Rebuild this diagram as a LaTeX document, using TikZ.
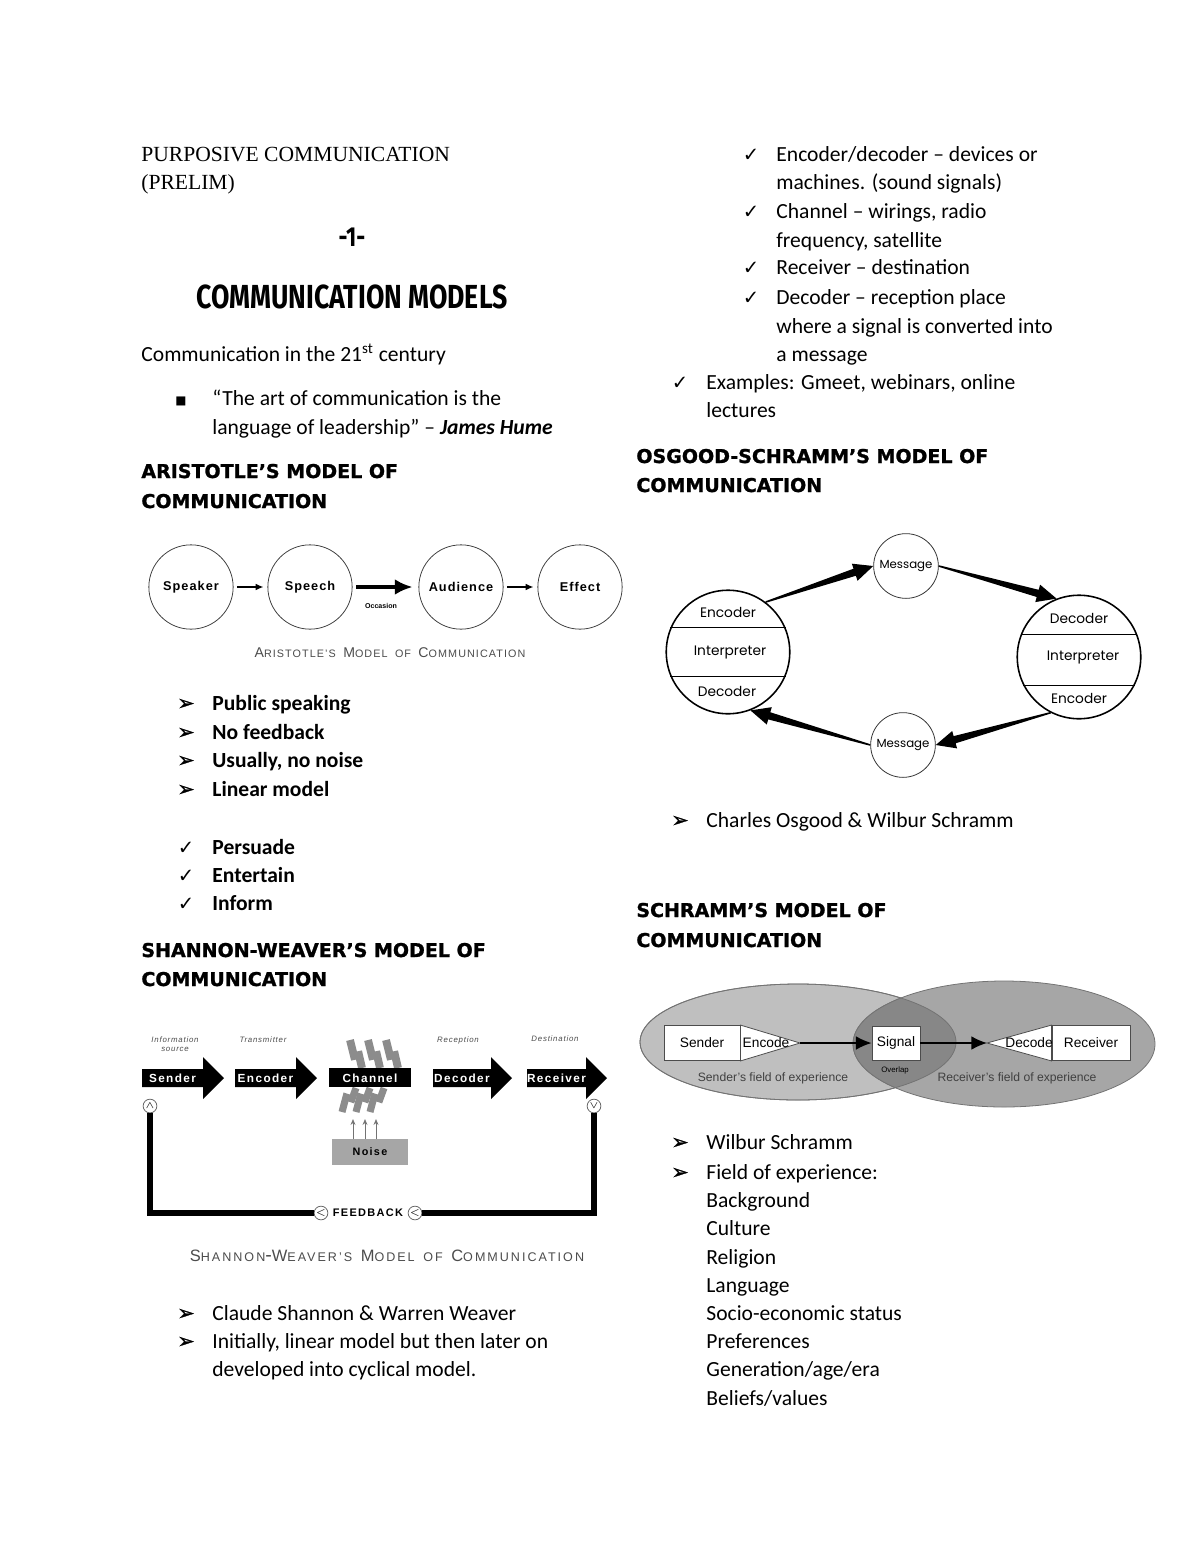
\documentclass[tikz,border=0pt]{standalone}
\usepackage{fontspec}
\setmainfont{Carlito}
\newfontfamily\symfont{DejaVu Sans}
\newfontfamily\titlefont{Liberation Serif}
\newfontfamily\headfont[FakeBold=1.2]{DejaVu Sans}
\newfontfamily\decofont[FakeStretch=0.8]{Fira Sans}
\newfontfamily\arialfont{Liberation Sans}
\newfontfamily\roundfont{Poppins}
\usetikzlibrary{arrows.meta,calc}

% fake small caps for the figure captions
\newcommand{\capsword}[2]{{\fontsize{7.2}{8}\selectfont #1}{\fontsize{5.5}{6}\selectfont #2}}
\newcommand{\capswordb}[2]{{\fontsize{8.4}{9}\selectfont #1}{\fontsize{6.4}{7}\selectfont #2}}
% tapered arrow of the Osgood-Schramm figure
\newcommand{\wedgearrow}[2]{%
  \coordinate (wh) at ($(#2)!10pt!(#1)$);
  \fill ($(#1)!0.4pt!90:(#2)$) -- ($(wh)!1.9pt!-90:(#1)$) -- ($(wh)!4.6pt!-90:(#1)$) -- (#2)
    -- ($(wh)!4.6pt!90:(#1)$) -- ($(wh)!1.9pt!90:(#1)$) -- ($(#1)!0.4pt!-90:(#2)$) -- cycle;}

\tikzset{
  txt/.style={anchor=base west,inner sep=0pt,font=\fontsize{11}{13}\selectfont},
  btxt/.style={anchor=base west,inner sep=0pt,font=\fontsize{11}{13}\selectfont\bfseries},
  hdr/.style={anchor=base west,inner sep=0pt,font=\headfont\bfseries\fontsize{9.7}{11}\selectfont},
  tick/.style={anchor=base,inner sep=0pt,font=\symfont\fontsize{10}{10}\selectfont},
  pointer/.style={anchor=base,inner sep=0pt,font=\symfont\fontsize{10.5}{10}\selectfont\addfontfeatures{FakeBold=1.5}},
  ring/.style={circle,draw=black!75,minimum size=43pt,inner sep=0pt,
    font=\arialfont\bfseries\fontsize{6.5}{8}\selectfont\addfontfeatures{LetterSpace=8}},
  figcap/.style={font=\arialfont\addfontfeatures{LetterSpace=#1},text=black!70},
  bigring/.style={circle,draw,thick,minimum size=63pt,inner sep=0pt},
  msgring/.style={circle,draw=black!80,minimum size=33pt,inner sep=0pt,
    font=\roundfont\fontsize{6}{7}\selectfont},
  part/.style={font=\roundfont\fontsize{7}{8}\selectfont},
  blk/.style={text=white,font=\arialfont\bfseries\fontsize{6}{7}\selectfont\addfontfeatures{LetterSpace=12}},
  tag/.style={font=\arialfont\itshape\fontsize{4}{4.5}\selectfont\addfontfeatures{LetterSpace=10},
    text=black!70,align=center},
  fbring/.style={circle,draw=black!60,fill=white,minimum size=7pt,inner sep=0pt,
    font=\fontsize{5}{5}\selectfont},
  sbox/.style={draw=black!70,fill=white,inner sep=0pt,font=\arialfont\fontsize{7}{8}\selectfont},
  field/.style={font=\arialfont\fontsize{6.2}{7}\selectfont,text=black!75},
}

\begin{document}
\begin{tikzpicture}[x=0.51pt,y=-0.51pt]
\fill[white] (0,0) rectangle (1200,1553);
\useasboundingbox (0,0) rectangle (1200,1553);

% ---------- left column
\node[anchor=base west,inner sep=0pt,font=\titlefont\fontsize{11}{13}\selectfont] (title) at (141,162) {PURPOSIVE COMMUNICATION};
\node[anchor=base west,inner sep=0pt,font=\titlefont\fontsize{11}{13}\selectfont] (prelim) at (141,190) {(PRELIM)};
\node[font=\decofont\bfseries\fontsize{14}{16}\selectfont] (num) at (352,237) {-1-};
\node[font=\decofont\bfseries\fontsize{17}{20}\selectfont] (models) at (352,297) {COMMUNICATION MODELS};

\node[txt] (c21) at (141,361) {Communication in the 21\textsuperscript{st} century};
\node[anchor=base,font=\symfont\fontsize{6}{8}\selectfont] (sq) at (181,404) {■};
\node[txt] (q1) at (212,405) {“The art of communication is the};
\node[txt] (q2) at (212,434) {language of leadership” – \textbf{\textit{James Hume}}};

\node[hdr] (ha1) at (141,478) {ARISTOTLE’S MODEL OF};
\node[hdr] (ha2) at (141,508) {COMMUNICATION};

% Aristotle
\node[ring] (spk) at (191,587) {Speaker};
\node[ring] (sph) at (310,587) {Speech};
\node[ring] (aud) at (461,587) {Audience};
\node[ring] (eff) at (580,587) {Effect};
\draw[thick,-{Latex[length=4pt,width=3.5pt]},shorten <=2pt,shorten >=2pt] (spk) -- (sph);
\draw[line width=2pt,-{Latex[length=9pt,width=8pt]},shorten <=2pt,shorten >=3pt] (sph) -- (aud);
\draw[thick,-{Latex[length=4pt,width=3.5pt]},shorten <=2pt,shorten >=2pt] (aud) -- (eff);
\node[font=\arialfont\bfseries\fontsize{3.6}{4}\selectfont] (occ) at (381,606) {Occasion};
\node[figcap=10] (acap) at (390,653) {\capsword{A}{RISTOTLE’S} \capsword{M}{ODEL} \capsword{}{OF} \capsword{C}{OMMUNICATION}};

\node[pointer] (p1) at (186,710) {➢};
\node[btxt] (l1) at (212,710) {Public speaking};
\node[pointer] (p2) at (186,739) {➢};
\node[btxt] (l2) at (212,739) {No feedback};
\node[pointer] (p3) at (186,767) {➢};
\node[btxt] (l3) at (212,767) {Usually, no noise};
\node[pointer] (p4) at (186,796) {➢};
\node[btxt] (l4) at (212,796) {Linear model};

\node[tick] (k1) at (186,854) {✓};
\node[btxt] (g1) at (212,854) {Persuade};
\node[tick] (k2) at (186,882) {✓};
\node[btxt] (g2) at (212,882) {Entertain};
\node[tick] (k3) at (186,910) {✓};
\node[btxt] (g3) at (212,910) {Inform};

\node[hdr] (hs1) at (141,957) {SHANNON-WEAVER’S MODEL OF};
\node[hdr] (hs2) at (141,986) {COMMUNICATION};

% Shannon-Weaver
\node[tag] (isrc) at (175,1044) {Information\\source};
\node[tag] (trm) at (263,1040) {Transmitter};
\node[tag] (rcp) at (458,1040) {Reception};
\node[tag] (dst) at (555,1039) {Destination};
\foreach \bx in {350,368,386}
  \draw[black!45,line width=4pt] (\bx,1040) -- (\bx+4,1056) -- (\bx+9,1055) -- (\bx+12,1068);
\foreach \bx in {342,356,370}
  \draw[black!45,line width=3.6pt] (\bx+14,1088) -- (\bx+10,1099) -- (\bx+4,1097) -- (\bx,1112);
\foreach \xa/\xb/\t/\n in {142/224/Sender/sw1,235/317/Encoder/sw2,433/512/Decoder/sw3,527/607/Receiver/sw4} {
  \fill (\xa,1069) -- (\xb-21,1069) -- (\xb-21,1057) -- (\xb,1078) -- (\xb-21,1099) -- (\xb-21,1087) -- (\xa,1087) -- cycle;
  \node[blk] (\n) at ({(\xa+\xb-21)/2},1078) {\t};
}
\fill (329,1068) rectangle (411,1087);
\node[blk] (chn) at (370,1078) {Channel};
\node[fill=black!35,minimum width=38.8pt,minimum height=12.8pt,inner sep=0pt,
  font=\arialfont\bfseries\fontsize{5.5}{6}\selectfont\addfontfeatures{LetterSpace=12}] (noise) at (370,1152) {Noise};
\foreach \dx in {-17,-5,6}
  \draw[black!55,-{Stealth[length=3pt,width=2.5pt]}] ([xshift=\dx*0.51pt]noise.north) -- ++(0,-20);
\node[fbring] (fbs) at (150,1106) {$\wedge$};
\node[fbring] (fbd) at (594,1106) {$\vee$};
\node[fbring] (fbl) at (321,1213) {$<$};
\node[font=\arialfont\bfseries\fontsize{5.6}{6}\selectfont\addfontfeatures{LetterSpace=12}] (fbt) at (368,1213) {FEEDBACK};
\node[fbring] (fbr) at (415,1213) {$<$};
\draw[line width=3pt] (fbs.south) |- (fbl.west);
\draw[line width=3pt] (fbr.east) -| (fbd.south);
\node[figcap=16] (scap) at (387,1256) {\capswordb{S}{HANNON}-\capswordb{W}{EAVER’S} \capswordb{M}{ODEL} \capswordb{}{OF} \capswordb{C}{OMMUNICATION}};

\node[pointer] (p5) at (186,1320) {➢};
\node[txt] (l5) at (212,1320) {Claude Shannon \& Warren Weaver};
\node[pointer] (p6) at (186,1348) {➢};
\node[txt] (l6) at (212,1348) {Initially, linear model but then later on};
\node[txt] (l7) at (212,1376) {developed into cyclical model.};

% ---------- right column
\node[tick] (k4) at (751,162) {✓};
\node[txt] (r1) at (776,162) {Encoder/decoder – devices or};
\node[txt] (r2) at (776,190) {machines. (sound signals)};
\node[tick] (k5) at (751,219) {✓};
\node[txt] (r3) at (776,219) {Channel – wirings, radio};
\node[txt] (r4) at (776,247) {frequency, satellite};
\node[tick] (k6) at (751,275) {✓};
\node[txt] (r5) at (776,275) {Receiver – destination};
\node[tick] (k7) at (751,304) {✓};
\node[txt] (r6) at (776,304) {Decoder – reception place};
\node[txt] (r7) at (776,333) {where a signal is converted into};
\node[txt] (r8) at (776,361) {a message};
\node[tick] (k8) at (680,389) {✓};
\node[txt] (r9) at (706,389) {Examples: Gmeet, webinars, online};
\node[txt] (r10) at (706,417) {lectures};

\node[hdr] (ho1) at (636,463) {OSGOOD-SCHRAMM’S MODEL OF};
\node[hdr] (ho2) at (636,492) {COMMUNICATION};

% Osgood-Schramm
\node[bigring] (lc) at (728,652) {};
\draw[thick] (lc.157) -- (lc.23);
\draw[thick] (lc.203) -- (lc.337);
\node[part] (lenc) at (728,612) {Encoder};
\node[part] (lint) at (730,652) {Interpreter};
\node[part] (ldec) at (727,691) {Decoder};
\node[bigring] (rc) at (1079,657) {};
\draw[thick] (rc.159) -- (rc.21);
\draw[thick] (rc.207) -- (rc.333);
\node[part] (rdec) at (1079,618) {Decoder};
\node[part] (rint) at (1083,657) {Interpreter};
\node[part] (renc) at (1079,698) {Encoder};
\node[msgring] (mt) at (906,566) {Message};
\node[msgring] (mb) at (903,745) {Message};
\wedgearrow{lc.53}{mt.west}
\wedgearrow{mt.east}{rc.111}
\wedgearrow{rc.243}{mb.east}
\wedgearrow{mb.west}{lc.291}

\node[pointer] (p7) at (680,827) {➢};
\node[txt] (l8) at (706,827) {Charles Osgood \& Wilbur Schramm};

\node[hdr] (hw1) at (636,917) {SCHRAMM’S MODEL OF};
\node[hdr] (hw2) at (636,947) {COMMUNICATION};

% Schramm
\filldraw[fill=black!25,draw=black!55] (798,1042) ellipse [x radius=158,y radius=58];
\filldraw[fill=black!35,draw=black!55] (1004,1044) ellipse [x radius=151,y radius=63];
\begin{scope}
  \clip (798,1042) ellipse [x radius=158,y radius=58];
  \filldraw[fill=black!47,draw=black!55] (1004,1044) ellipse [x radius=151,y radius=63];
\end{scope}
\draw[black!55] (798,1042) ellipse [x radius=158,y radius=58];
\node[sbox,minimum width=38.8pt,minimum height=17.9pt] (snd) at (702,1043) {Sender};
\filldraw[fill=white,draw=black!70] (snd.north east) -- (800,1043) coordinate (enctip) -- (snd.south east) -- cycle;
\node[font=\arialfont\fontsize{7}{8}\selectfont] (enc) at (766,1043) {Encode};
\node[sbox,minimum width=24.5pt,minimum height=17.3pt] (sig) at (896,1043) {Signal};
\node[font=\arialfont\fontsize{4}{5}\selectfont] (ovl) at (895,1070) {Overlap};
\node[sbox,minimum width=39.8pt,minimum height=17.9pt] (rcv) at (1091,1043) {Receiver};
\filldraw[fill=white,draw=black!70] (rcv.north west) -- (987,1043) coordinate (dectip) -- (rcv.south west) -- cycle;
\node[font=\arialfont\fontsize{7}{8}\selectfont] (dec) at (1029,1043) {Decode};
\draw[thick,-{Latex[length=8pt,width=7pt]}] (enctip) -- (sig.west);
\draw[thick,-{Latex[length=8pt,width=7pt]}] (sig.east) -- (dectip);
\node[field] (sfe) at (773,1078) {Sender’s field of experience};
\node[field] (rfe) at (1017,1078) {Receiver’s field of experience};

\node[pointer] (p8) at (680,1149) {➢};
\node[txt] (w1) at (706,1149) {Wilbur Schramm};
\node[pointer] (p9) at (680,1179) {➢};
\node[txt] (w2) at (706,1179) {Field of experience:};
\node[txt] (w3) at (706,1207) {Background};
\node[txt] (w4) at (706,1235) {Culture};
\node[txt] (w5) at (706,1264) {Religion};
\node[txt] (w6) at (706,1292) {Language};
\node[txt] (w7) at (706,1320) {Socio-economic status};
\node[txt] (w8) at (706,1348) {Preferences};
\node[txt] (w9) at (706,1376) {Generation/age/era};
\node[txt] (w10) at (706,1405) {Beliefs/values};
\end{tikzpicture}
\end{document}
